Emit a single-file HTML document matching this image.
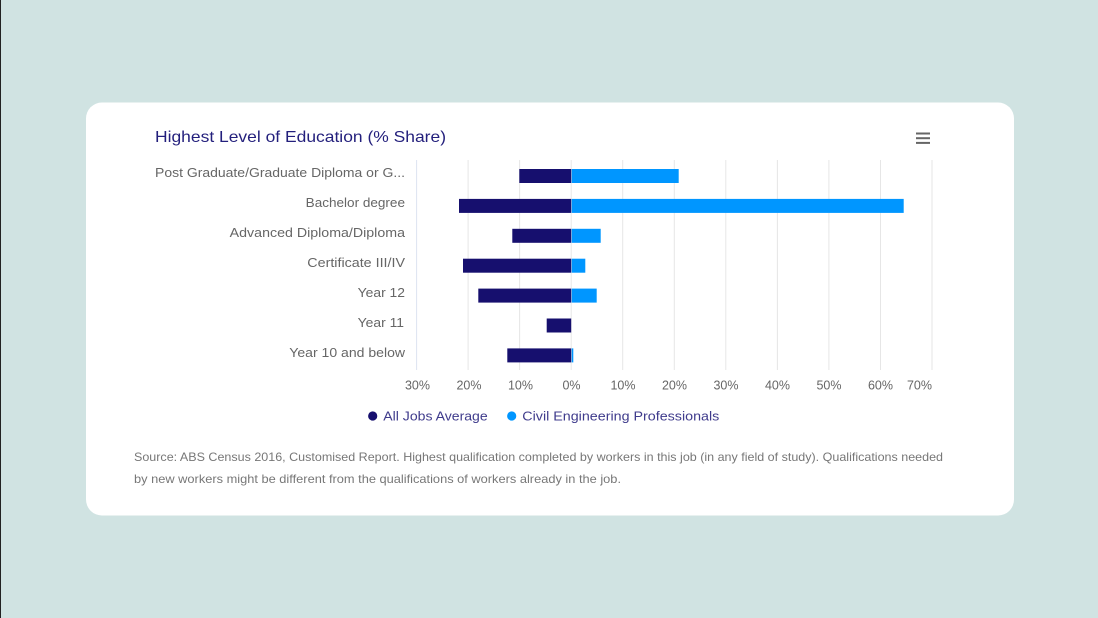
<!DOCTYPE html>
<html>
<head>
<meta charset="utf-8">
<style>
  html,body{margin:0;padding:0;background:#d0e3e2;}
  body{width:1098px;height:618px;overflow:hidden;}
  svg{display:block;}
  text{font-family:"Liberation Sans", sans-serif;}
</style>
</head>
<body>
<svg width="1098" height="618" viewBox="0 0 1098 618" xmlns="http://www.w3.org/2000/svg">
  <rect x="0" y="0" width="1098" height="618" fill="#d0e3e2"/>
  <rect x="0" y="0" width="1" height="618" fill="#222"/>
  <rect x="86" y="102.5" width="928" height="413" rx="16" ry="16" fill="#ffffff"/>

  <!-- Title -->
  <text x="155" y="142" font-size="16" fill="#231f7c" textLength="291" lengthAdjust="spacingAndGlyphs">Highest Level of Education (% Share)</text>

  <!-- Menu icon -->
  <rect x="916" y="132.5" width="14" height="2" fill="#666"/>
  <rect x="916" y="137.2" width="14" height="2" fill="#666"/>
  <rect x="916" y="141.9" width="14" height="2" fill="#666"/>

  <!-- Gridlines -->
  <g stroke="#e6e6e6" stroke-width="1">
    <line x1="468.1" y1="160" x2="468.1" y2="370"/>
    <line x1="519.6" y1="160" x2="519.6" y2="370"/>
    <line x1="571.2" y1="160" x2="571.2" y2="370"/>
    <line x1="622.7" y1="160" x2="622.7" y2="370"/>
    <line x1="674.3" y1="160" x2="674.3" y2="370"/>
    <line x1="725.8" y1="160" x2="725.8" y2="370"/>
    <line x1="777.4" y1="160" x2="777.4" y2="370"/>
    <line x1="828.9" y1="160" x2="828.9" y2="370"/>
    <line x1="880.5" y1="160" x2="880.5" y2="370"/>
    <line x1="932" y1="160" x2="932" y2="370"/>
  </g>
  <line x1="416.6" y1="160" x2="416.6" y2="370" stroke="#dde3f0" stroke-width="1"/>

  <!-- Dark bars (All Jobs Average) -->
  <g fill="#160f6e">
    <rect x="519.3" y="169" width="51.9" height="14"/>
    <rect x="459" y="198.9" width="112.2" height="14"/>
    <rect x="512.3" y="228.8" width="58.9" height="14"/>
    <rect x="463" y="258.7" width="108.2" height="14"/>
    <rect x="478.3" y="288.6" width="92.9" height="14"/>
    <rect x="546.7" y="318.5" width="24.5" height="14"/>
    <rect x="507.3" y="348.4" width="63.9" height="14"/>
  </g>
  <!-- Light bars (Civil Engineering Professionals) -->
  <g fill="#0096ff">
    <rect x="571.7" y="169" width="107" height="14"/>
    <rect x="571.7" y="198.9" width="332" height="14"/>
    <rect x="571.7" y="228.8" width="29" height="14"/>
    <rect x="571.7" y="258.7" width="13.6" height="14"/>
    <rect x="571.7" y="288.6" width="25" height="14"/>
    <rect x="571.7" y="348.4" width="1.6" height="14"/>
  </g>

  <!-- Category labels -->
  <g font-size="13" fill="#666666" text-anchor="end">
    <text x="405" y="177" textLength="250" lengthAdjust="spacingAndGlyphs">Post Graduate/Graduate Diploma or G...</text>
    <text x="405" y="207" textLength="99.3" lengthAdjust="spacingAndGlyphs">Bachelor degree</text>
    <text x="405" y="237.2" textLength="175.3" lengthAdjust="spacingAndGlyphs">Advanced Diploma/Diploma</text>
    <text x="405" y="267" textLength="97.7" lengthAdjust="spacingAndGlyphs">Certificate III/IV</text>
    <text x="405" y="297" textLength="47.3" lengthAdjust="spacingAndGlyphs">Year 12</text>
    <text x="404" y="327.2" textLength="46.3" lengthAdjust="spacingAndGlyphs">Year 11</text>
    <text x="405" y="357" textLength="115.7" lengthAdjust="spacingAndGlyphs">Year 10 and below</text>
  </g>

  <!-- X tick labels -->
  <g font-size="12.5" fill="#666666" text-anchor="middle">
    <text x="417.5" y="389.5">30%</text>
    <text x="469" y="389.5">20%</text>
    <text x="520.5" y="389.5">10%</text>
    <text x="571.5" y="389.5">0%</text>
    <text x="623" y="389.5">10%</text>
    <text x="674.5" y="389.5">20%</text>
    <text x="726" y="389.5">30%</text>
    <text x="777.5" y="389.5">40%</text>
    <text x="829" y="389.5">50%</text>
    <text x="880.5" y="389.5">60%</text>
    <text x="919.5" y="389.5">70%</text>
  </g>

  <!-- Legend -->
  <circle cx="372.7" cy="416" r="4.6" fill="#160f6e"/>
  <text x="383.3" y="420.5" font-size="13" fill="#3f3b8c" textLength="104.4" lengthAdjust="spacingAndGlyphs">All Jobs Average</text>
  <circle cx="511.7" cy="416" r="4.6" fill="#0096ff"/>
  <text x="522.3" y="420.5" font-size="13" fill="#3f3b8c" textLength="197" lengthAdjust="spacingAndGlyphs">Civil Engineering Professionals</text>

  <!-- Source -->
  <text x="134" y="461" font-size="12" fill="#777777" textLength="809" lengthAdjust="spacingAndGlyphs">Source: ABS Census 2016, Customised Report. Highest qualification completed by workers in this job (in any field of study). Qualifications needed</text>
  <text x="134" y="483" font-size="12" fill="#777777" textLength="487" lengthAdjust="spacingAndGlyphs">by new workers might be different from the qualifications of workers already in the job.</text>
</svg>
</body>
</html>
